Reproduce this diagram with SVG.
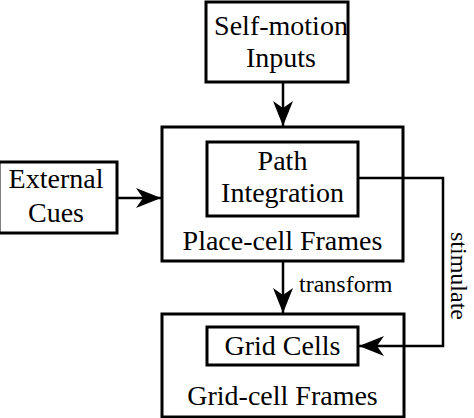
<svg xmlns="http://www.w3.org/2000/svg" width="474" height="418" viewBox="0 0 474 418">
<style>
.box{fill:none;stroke:#000;stroke-width:3}
.t{font-size:28px;fill:#000;text-anchor:middle}
.lbl{font-size:24px;fill:#000}
.c{fill:none;stroke:#000;stroke-width:2.5}
</style>
<defs>
<marker id="ah" markerUnits="userSpaceOnUse" markerWidth="30" markerHeight="24" viewBox="-26 -12 28 24" refX="0" refY="0" orient="auto">
<path d="M0,0 L-25,-10 L-18,0 L-25,10 Z" fill="#000"/>
</marker>
</defs>
<rect width="474" height="418" fill="#fff"/>
<g font-family="Liberation Serif, serif">
<g id="connectors">
<line class="c" x1="283" y1="82" x2="283" y2="126" marker-end="url(#ah)"/>
<line class="c" x1="117" y1="198" x2="161" y2="198" marker-end="url(#ah)"/>
<line class="c" x1="283" y1="261" x2="283" y2="313" marker-end="url(#ah)"/>
<path class="c" d="M358,178 H443 V346 H359" marker-end="url(#ah)"/>
<text class="lbl" x="299" y="292">transform</text>
<text class="lbl" transform="translate(451,276) rotate(90)" text-anchor="middle">stimulate</text>
</g>
<g id="self-motion">
<rect class="box" x="206" y="2" width="142" height="80"/>
<text class="t" x="281" y="35">Self-motion</text>
<text class="t" x="281" y="67">Inputs</text>
</g>
<g id="external-cues">
<rect class="box" x="-1" y="162" width="118" height="71"/>
<text class="t" x="56" y="188">External</text>
<text class="t" x="56" y="222">Cues</text>
</g>
<g id="place-cell-frames">
<rect class="box" x="162" y="127" width="241" height="134"/>
<text class="t" x="282.5" y="250">Place-cell Frames</text>
</g>
<g id="path-integration">
<rect class="box" x="207" y="142" width="151" height="74"/>
<text class="t" x="282.5" y="170">Path</text>
<text class="t" x="282.5" y="202">Integration</text>
</g>
<g id="grid-cell-frames">
<rect class="box" x="162" y="314" width="242" height="103"/>
<text class="t" x="282.5" y="405">Grid-cell Frames</text>
</g>
<g id="grid-cells">
<rect class="box" x="207" y="327" width="151" height="38"/>
<text class="t" x="282.5" y="355">Grid Cells</text>
</g>
</g>
</svg>
